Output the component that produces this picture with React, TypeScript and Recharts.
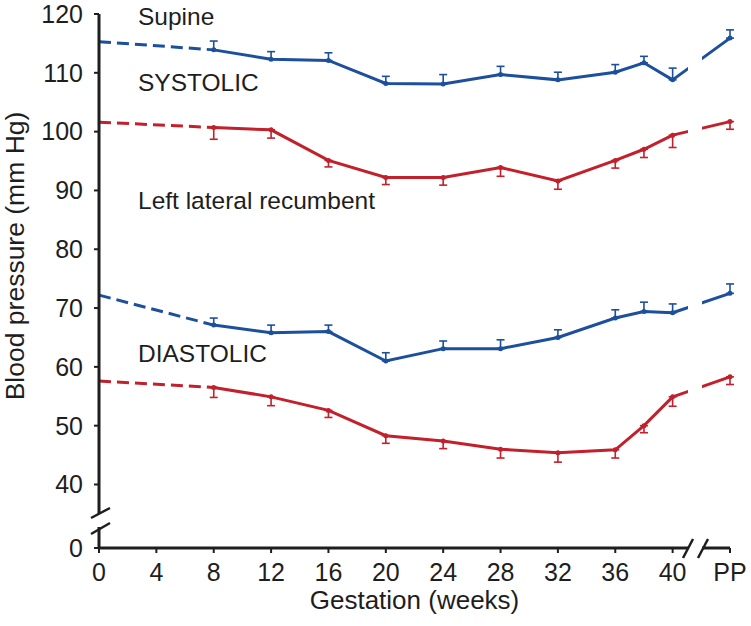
import React from 'react'
import { LineChart, Line, XAxis, YAxis, ErrorBar, Label } from 'recharts'

// gestation weeks; 44 stands for postpartum (PP)
const weeks = [0, 8, 12, 16, 20, 24, 28, 32, 36, 38, 40, 44]
const xTicks = [0, 4, 8, 12, 16, 20, 24, 28, 32, 36, 40, 44]
const yTicks = [40, 50, 60, 70, 80, 90, 100, 110, 120]
const yBottom = 29.2 // broken axis, labelled 0

const supineSys = [115.3, 113.9, 112.3, 112.1, 108.2, 108.1, 109.7, 108.8, 110.1, 111.7, 108.8, 115.9]
const supineSysErr = [0, 1.5, 1.3, 1.3, 1.2, 1.6, 1.4, 1.3, 1.3, 1.1, 2.0, 1.4]
const lateralSys = [101.6, 100.7, 100.3, 95.1, 92.2, 92.2, 93.9, 91.6, 95.1, 97.0, 99.4, 101.7]
const lateralSysErr = [0, 2.0, 1.4, 1.1, 1.2, 1.3, 1.5, 1.4, 1.3, 1.4, 2.1, 1.3]
const supineDia = [72.2, 67.1, 65.8, 66.0, 61.0, 63.1, 63.1, 65.0, 68.3, 69.4, 69.2, 72.5]
const supineDiaErr = [0, 1.2, 1.3, 1.1, 1.4, 1.3, 1.5, 1.3, 1.4, 1.6, 1.5, 1.6]
const lateralDia = [57.6, 56.5, 54.9, 52.6, 48.3, 47.4, 46.0, 45.4, 45.9, 50.0, 54.9, 58.3]
const lateralDiaErr = [0, 1.7, 1.5, 1.2, 1.3, 1.3, 1.5, 1.6, 1.4, 1.2, 1.6, 1.3]

const BLUE = '#1c4f9c'
const RED = '#c2202b'
const INK = '#1e1e1e'
const FONT = '"Liberation Sans", Arial, Helvetica, sans-serif'

const series = [
  { key: 'supSys', values: supineSys, err: supineSysErr, color: BLUE, up: true },
  { key: 'latSys', values: lateralSys, err: lateralSysErr, color: RED, up: false },
  { key: 'supDia', values: supineDia, err: supineDiaErr, color: BLUE, up: true },
  { key: 'latDia', values: lateralDia, err: lateralDiaErr, color: RED, up: false },
]

const last = weeks.length - 1
const data = weeks.map((w, i) => {
  const row: Record<string, any> = { week: w }
  series.forEach(s => {
    const v = s.values[i]
    row[s.key + 'Lead'] = i <= 1 ? v : null
    row[s.key + 'Main'] = i >= 1 && i <= last - 1 ? v : null
    row[s.key + 'Tail'] = i >= last - 1 ? v : null
    row[s.key + 'Pt'] = i >= 1 ? v : null
    row[s.key + 'Err'] = i >= 1 ? (s.up ? [0, s.err[i]] : [s.err[i], 0]) : undefined
  })
  return row
})

export default function App() {
  return (
    <div style={{ position: 'relative', width: 751, height: 626, fontFamily: FONT, background: '#fff' }}>
      <style>{'body{margin:0}'}</style>
      <LineChart width={751} height={626} data={data} margin={{ top: 14, right: 21, left: 0, bottom: 18 }}>
        <XAxis
          dataKey="week" type="number" domain={[0, 44]} ticks={xTicks}
          tickFormatter={v => (v === 44 ? 'PP' : String(v))}
          height={60} tickSize={5} tickMargin={10}
          axisLine={{ stroke: INK, strokeWidth: 3 }}
          tickLine={{ stroke: INK, strokeWidth: 2 }}
          tick={{ fontSize: 25, fill: INK }}
        >
          <Label value="Gestation (weeks)" position="insideBottom" offset={-1}
            style={{ fontSize: 26, fill: INK }} />
        </XAxis>
        <YAxis
          type="number" domain={[yBottom, 120]} ticks={[yBottom, ...yTicks]}
          tickFormatter={v => (v === yBottom ? '0' : String(v))}
          width={99} tickSize={5} tickMargin={11}
          axisLine={{ stroke: INK, strokeWidth: 3 }}
          tickLine={{ stroke: INK, strokeWidth: 2 }}
          tick={{ fontSize: 25, fill: INK }}
        >
          <Label value="Blood pressure (mm Hg)" angle={-90} position="center" dx={-35} dy={-25}
            style={{ fontSize: 26.5, fill: INK }} />
        </YAxis>
        {series.map(s => (
          <Line key={s.key + 'Lead'} dataKey={s.key + 'Lead'} stroke={s.color} strokeWidth={3}
            strokeDasharray="12 6" dot={false} activeDot={false} isAnimationActive={false} />
        ))}
        {series.map(s => (
          <Line key={s.key + 'Main'} dataKey={s.key + 'Main'} stroke={s.color} strokeWidth={3}
            dot={false} activeDot={false} isAnimationActive={false} />
        ))}
        {series.map(s => (
          <Line key={s.key + 'Tail'} dataKey={s.key + 'Tail'} stroke={s.color} strokeWidth={3}
            dot={false} activeDot={false} isAnimationActive={false} />
        ))}
        {series.map(s => (
          <Line key={s.key + 'Pt'} dataKey={s.key + 'Pt'} stroke="none"
            dot={{ r: 2.5, fill: s.color, stroke: 'none' }} activeDot={false} isAnimationActive={false}>
            <ErrorBar dataKey={s.key + 'Err'} direction="y" width={4} stroke={s.color} strokeWidth={1.6} />
          </Line>
        ))}
      </LineChart>
      {/* axis breaks and in-plot annotations */}
      <svg width={751} height={626} style={{ position: 'absolute', left: 0, top: 0, pointerEvents: 'none' }}>
        <rect x={688} y={10} width={14} height={543} fill="#fff" />
        <rect x={93} y={514} width={13} height={13} fill="#fff" />
        <g stroke={INK} strokeWidth={2.5}>
          <line x1={683} y1={558} x2={693} y2={539} />
          <line x1={698} y1={558} x2={708} y2={539} />
          <line x1={91} y1={518} x2={110} y2={508} />
          <line x1={91} y1={534} x2={110} y2={523} />
        </g>
        <g fill={INK} fontSize={24.5}>
          <text x={138} y={25}>Supine</text>
          <text x={138} y={91}>SYSTOLIC</text>
          <text x={138} y={209}>Left lateral recumbent</text>
          <text x={138} y={362}>DIASTOLIC</text>
        </g>
      </svg>
    </div>
  )
}
